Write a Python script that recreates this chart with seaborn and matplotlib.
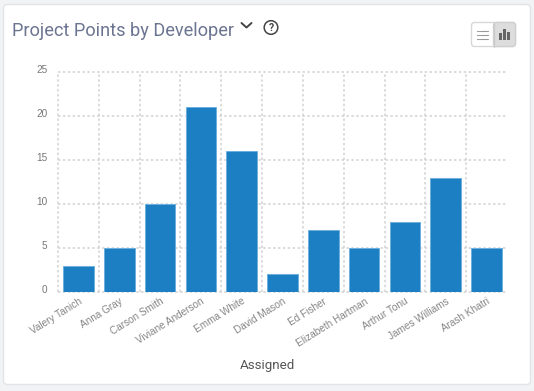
import matplotlib
matplotlib.use('Agg')
import matplotlib.pyplot as plt
import matplotlib.transforms as mtrans
from matplotlib.patches import FancyBboxPatch, Rectangle, Circle
import numpy as np
import pandas as pd
import seaborn as sns

developers = ['Valery Tanich', 'Anna Gray', 'Carson Smith', 'Viviane Anderson',
              'Emma White', 'David Mason', 'Ed Fisher', 'Elizabeth Hartman',
              'Arthur Tonu', 'James Williams', 'Arash Khatri']
points = [3, 5, 10, 21, 16, 2, 7, 5, 8, 13, 5]
y_ticks = [0, 5, 10, 15, 20, 25]

W, H = 534, 391

sns.set_theme(style='white')
plt.rcParams['font.family'] = ['Roboto', 'DejaVu Sans']

fig = plt.figure(figsize=(W / 100, H / 100), dpi=100, facecolor='#f2f3f5')

# background layer in pixel coordinates: card, header icons
bg = fig.add_axes([0, 0, 1, 1])
bg.set_xlim(0, W)
bg.set_ylim(H, 0)
bg.axis('off')
bg.add_patch(FancyBboxPatch((3.5, 4.5), 527, 380, boxstyle='round,pad=0,rounding_size=4',
                            fc='white', ec='#e3e4e7', lw=1))
bg.text(12.5, 30.5, 'Project Points by Developer', fontsize=13.1, color='#6b7490',
        ha='left', va='center')

# chevron
bg.plot([241.5, 246.5, 251.5], [23, 27.5, 23], color='#444444', lw=1.4)
# help icon
bg.add_patch(Circle((271, 27.5), 6.8, fc='none', ec='#444444', lw=1.1))
bg.text(271, 27.8, '?', fontsize=7.5, color='#444444', ha='center', va='center', fontweight='bold')

# list / chart toggle
bg.add_patch(FancyBboxPatch((471.5, 22.5), 44, 24, boxstyle='round,pad=0,rounding_size=3',
                            fc='white', ec='#d8d8d8', lw=1))
bg.add_patch(FancyBboxPatch((493.5, 22.5), 22, 24, boxstyle='round,pad=0,rounding_size=3',
                            fc='#dddddd', ec='#cfcfcf', lw=1))
bg.add_patch(Rectangle((493.5, 23), 4, 23, fc='#dddddd', ec='none'))
bg.plot([493.5, 493.5], [22.5, 46.5], color='#cccccc', lw=1)
for y in [31, 35, 39]:
    bg.plot([477, 478.5], [y, y], color='#999999', lw=0.8)
    bg.plot([480, 488], [y, y], color='#999999', lw=0.8)
for x, top in [(500.3, 33), (504.5, 29), (508.7, 32)]:
    bg.add_patch(Rectangle((x - 1.3, top), 2.6, 39.5 - top, fc='#666666', ec='none'))

# chart
ax = fig.add_axes([58 / W, 1 - 292 / H, (507 - 58) / W, (292 - 72) / H])
ax.patch.set_alpha(0)

df = pd.DataFrame({'Developer': developers, 'Points': points})
sns.barplot(data=df, x='Developer', y='Points', ax=ax, color='#1c7fc4', saturation=1,
            width=0.75, edgecolor='#6cb0de', linewidth=0.7, zorder=3)

ax.set_xlim(-0.5, len(developers) - 0.5)
ax.set_ylim(0, 25)
ax.set_xlabel('')
ax.set_ylabel('')
sns.despine(ax=ax, left=True, bottom=True)

ax.set_axisbelow(True)
ax.set_yticks(y_ticks)
ax.set_xticks(np.arange(len(developers)) - 0.5, minor=True)
grid_style = dict(color='#d2d2d2', lw=1.1, linestyle=(0, (1.6, 1.6)))
ax.grid(True, axis='y', which='major', clip_on=False, **grid_style)
ax.grid(True, axis='x', which='minor', clip_on=False, **grid_style)
ax.grid(False, axis='x', which='major')
ax.tick_params(axis='both', which='both', length=0)

ax.tick_params(axis='y', labelsize=7.2, labelcolor='#777777', pad=7.5)
offset = mtrans.ScaledTranslation(0, 3 / 100, fig.dpi_scale_trans)
for lab in ax.get_yticklabels():
    lab.set_transform(lab.get_transform() + offset)
    lab.set_family(['Liberation Sans'])

ax.set_xticks(range(len(developers)))
ax.set_xticklabels(developers, rotation=32, ha='right', rotation_mode='anchor',
                   fontsize=7.2, color='#858585', family=['Liberation Sans'])
ax.tick_params(axis='x', pad=3)

fig.text(267.5 / W, 1 - 365 / H, 'Assigned', fontsize=9.6, color='#555555',
         ha='center', va='center')

fig.savefig('out.png', dpi=100, facecolor=fig.get_facecolor())
